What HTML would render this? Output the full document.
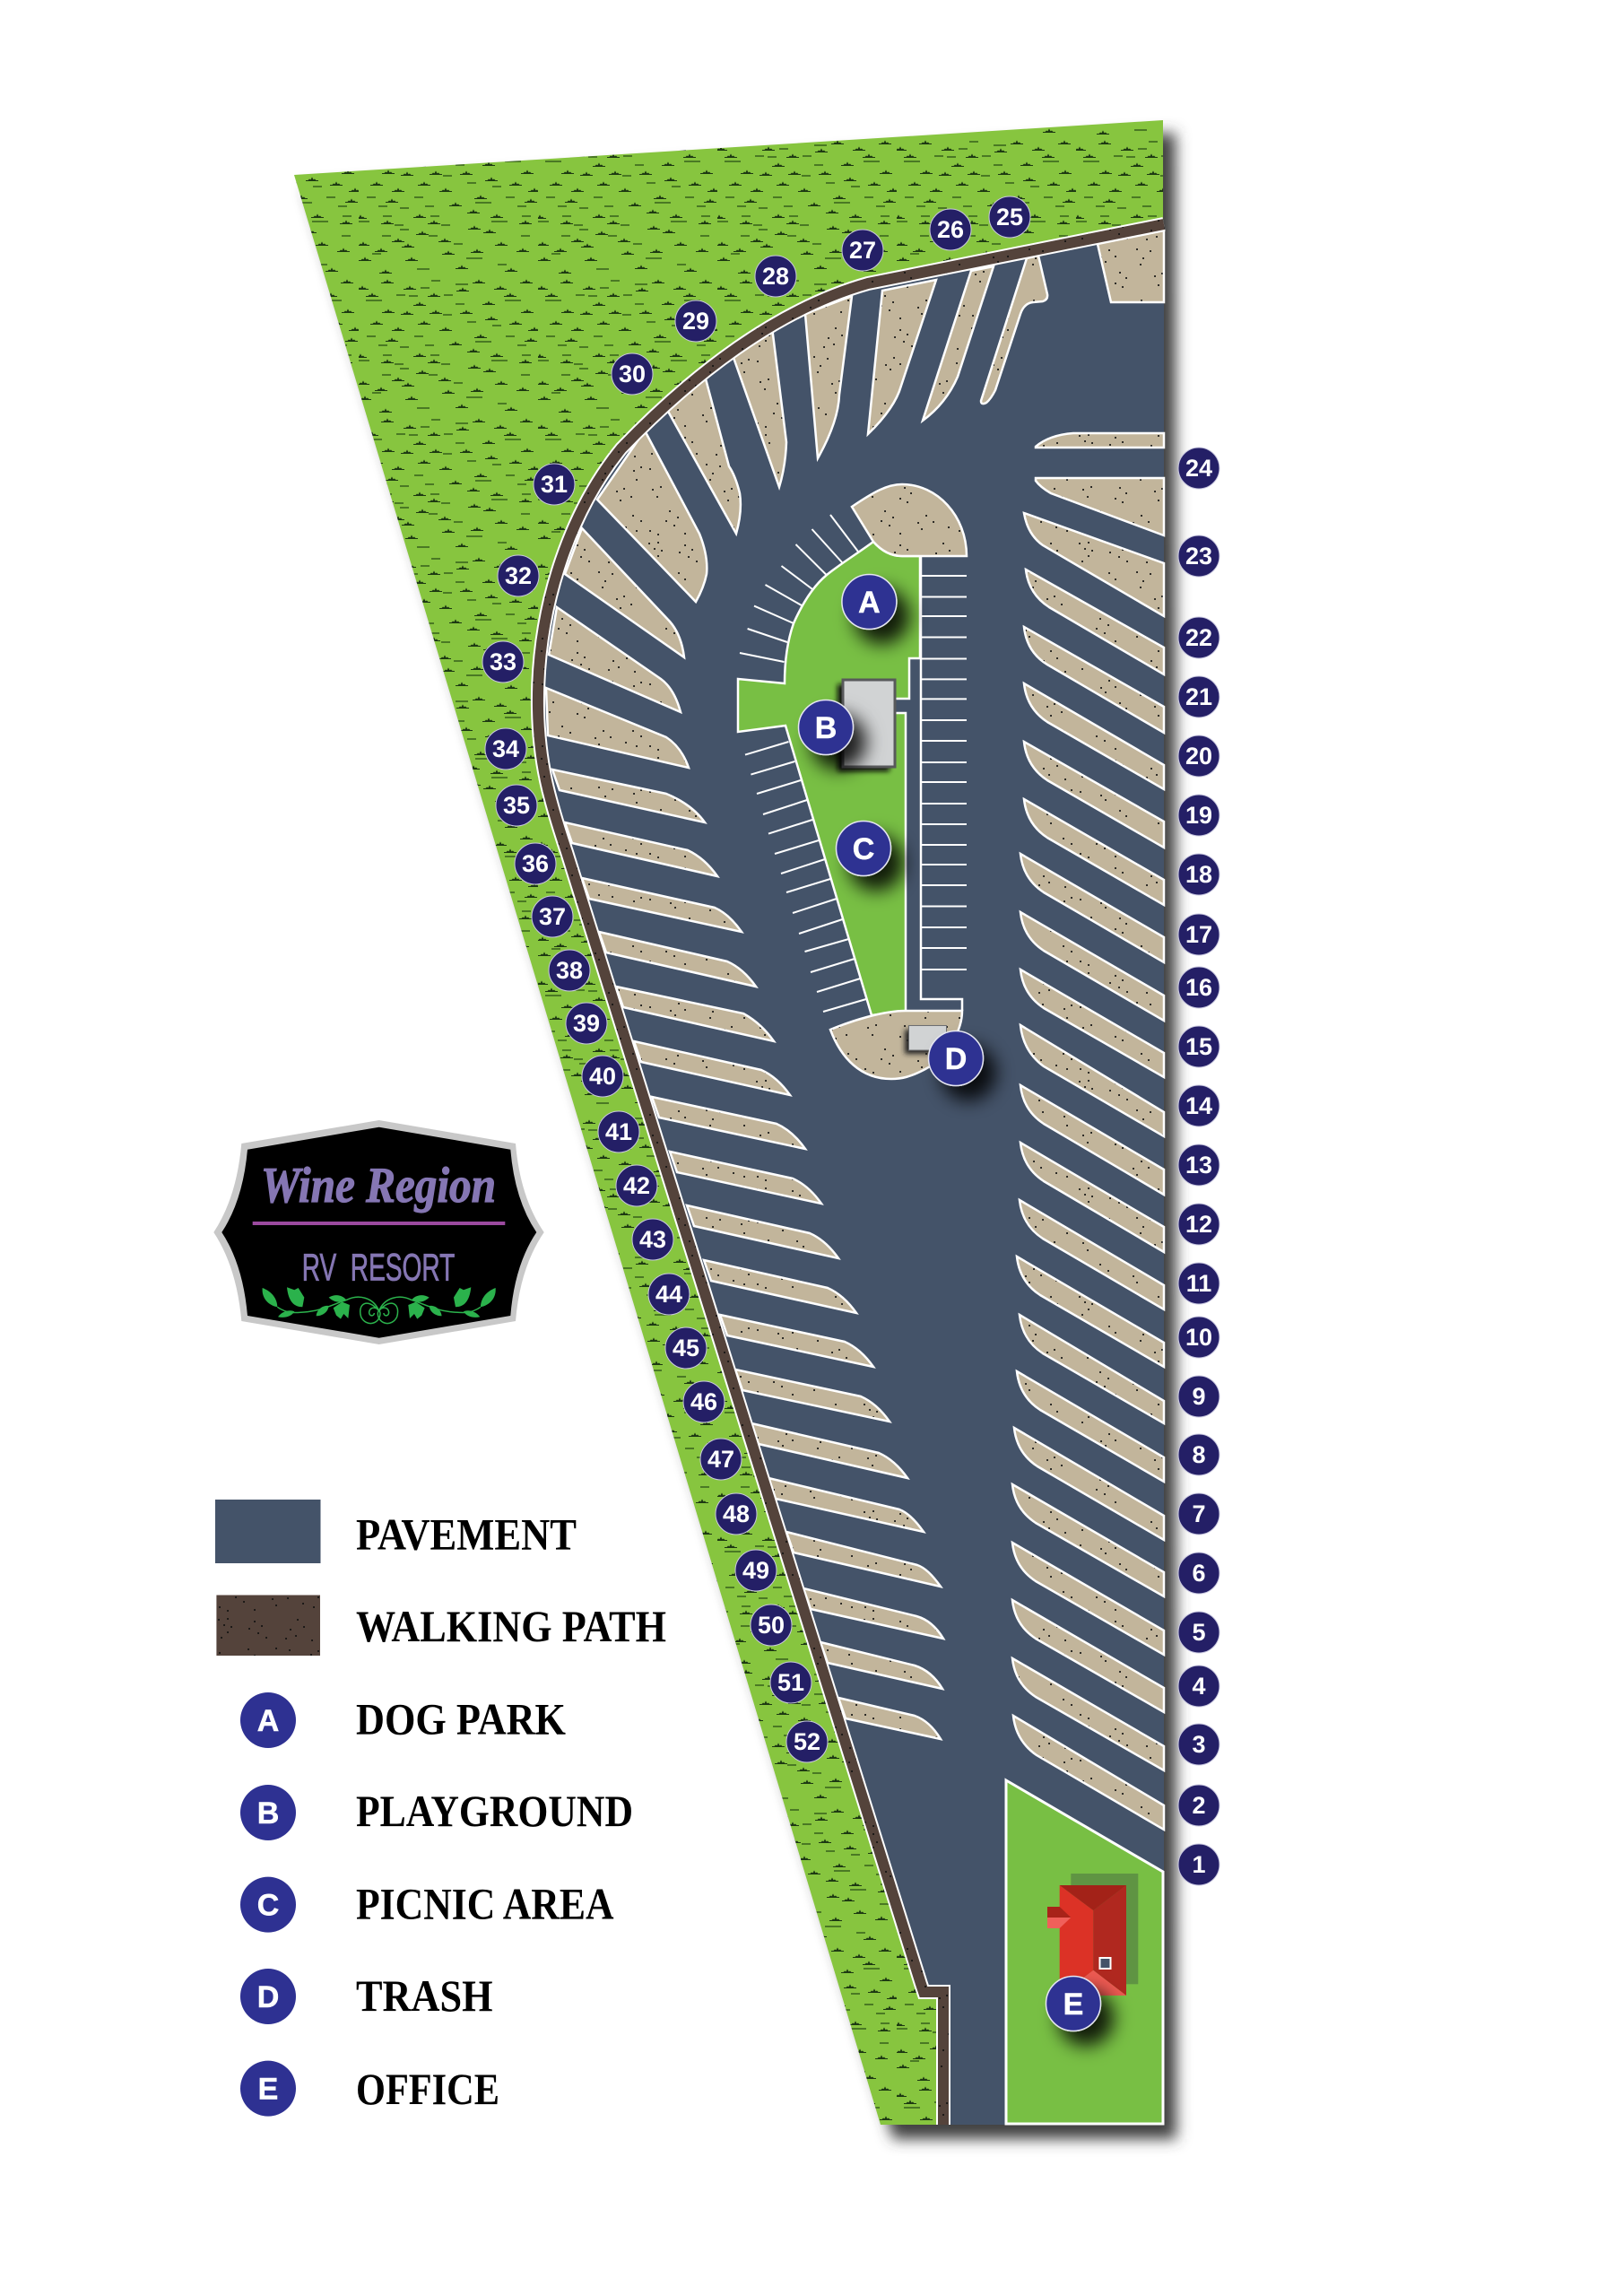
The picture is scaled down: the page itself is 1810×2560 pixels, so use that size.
<!DOCTYPE html>
<html><head><meta charset="utf-8"><style>
html,body{margin:0;padding:0;background:#fff}
svg{display:block}
.n{font:bold 27px "Liberation Sans",sans-serif;fill:#fff;text-anchor:middle}
.l{font:bold 34px "Liberation Sans",sans-serif;fill:#fff;text-anchor:middle;stroke:#fff;stroke-width:.5}
.g{font:bold 50px "Liberation Serif",serif;fill:#000}
</style></head><body>
<svg xmlns="http://www.w3.org/2000/svg" width="1810" height="2560" viewBox="0 0 1810 2560">
<defs>
<path id="t" d="M-7,1h14v1h-14zM-4.5,1L-3,-.5L-1.5,.2L0,-2.6L1.5,.2L3,-.5L4.5,1Z" fill="#1c3812"/>
<path id="dots" fill="none" stroke="#111" stroke-width="1.8" stroke-linecap="square" d="M4 6h.1M10 12h.1M14 5h.1M18 14h.1M14 20h.1M7 26h.1M38 16h.1M44 8h.1M48 21h.1M52 13h.1M57 26h.1M84 17h.1M79 27h.1M92 6h.1M99 14h.1M90 24h.1M108 29h.1M5 43h.1M28 47h.1M37 39h.1M33 52h.1M44 46h.1M68 38h.1M75 48h.1M83 40h.1M72 55h.1M107 45h.1M115 41h.1M110 55h.1M8 66h.1M17 63h.1M13 74h.1M49 64h.1M56 70h.1M44 76h.1M52 80h.1M88 68h.1M96 65h.1M92 78h.1M104 74h.1M27 90h.1M36 97h.1M23 101h.1M32 106h.1M64 103h.1M73 95h.1M68 110h.1M81 102h.1M106 95h.1M115 101h.1M98 108h.1M110 112h.1M5 112h.1M14 116h.1M44 115h.1"/>
<pattern id="tan" width="120" height="120" patternUnits="userSpaceOnUse"><rect width="120" height="120" fill="#c2b59b"/><use href="#dots"/></pattern>
<pattern id="brn" width="120" height="120" patternUnits="userSpaceOnUse"><rect width="120" height="120" fill="#54433b"/><use href="#dots"/></pattern>
<pattern id="grass" width="200" height="155" patternUnits="userSpaceOnUse">
<rect width="200" height="155" fill="#87c53f"/>
<g id="tf">
<use href="#t" x="32" y="4"/><use href="#t" x="134" y="4"/><use href="#t" x="187" y="4"/><use href="#t" x="4" y="11"/><use href="#t" x="57" y="11"/><use href="#t" x="116" y="13"/><use href="#t" x="158" y="11"/><use href="#t" x="15" y="19"/><use href="#t" x="84" y="19"/><use href="#t" x="169" y="19"/><use href="#t" x="68" y="29"/><use href="#t" x="145" y="28"/><use href="#t" x="33" y="37"/><use href="#t" x="54" y="39"/><use href="#t" x="86" y="38"/><use href="#t" x="120" y="38"/><use href="#t" x="188" y="37"/><use href="#t" x="148" y="45"/><use href="#t" x="20" y="50"/><use href="#t" x="73" y="50"/><use href="#t" x="175" y="50"/><use href="#t" x="44" y="57"/><use href="#t" x="97" y="57"/><use href="#t" x="196" y="57"/><use href="#t" x="136" y="65"/><use href="#t" x="37" y="69"/><use href="#t" x="108" y="73"/><use href="#t" x="192" y="69"/><use href="#t" x="128" y="81"/><use href="#t" x="2" y="87"/><use href="#t" x="68" y="86"/><use href="#t" x="154" y="86"/><use href="#t" x="32" y="93"/><use href="#t" x="84" y="93"/><use href="#t" x="186" y="93"/><use href="#t" x="129" y="99"/><use href="#t" x="146" y="103"/><use href="#t" x="71" y="105"/><use href="#t" x="44" y="113"/><use href="#t" x="96" y="113"/><use href="#t" x="5" y="117"/><use href="#t" x="159" y="117"/><use href="#t" x="55" y="119"/><use href="#t" x="25" y="124"/><use href="#t" x="132" y="125"/><use href="#t" x="183" y="124"/><use href="#t" x="100" y="127"/><use href="#t" x="7" y="134"/><use href="#t" x="59" y="134"/><use href="#t" x="115" y="143"/><use href="#t" x="170" y="146"/><use href="#t" x="30" y="148"/>
</g>
<path fill="none" stroke="#36601a" stroke-width="1.4" d="M108 7h14M81 3h10M69 11h10M42 19h10M56 20h10M95 19h10M8 25h18M163 25h18M108 29h10M94 41h10M121 49h10M149 53h10M9 65h10M62 65h10M164 65h10M130 71h18M22 75h10M74 75h10M177 75h10M46 77h10M27 86h10M80 86h10M182 86h10M0 92h12M148 92h18M40 96h10M92 96h10M46 101h10M26 108h10M78 108h10M181 108h10M106 117h10M15 128h10M120 133h18M155 140h10M65 145h14"/>
</pattern>
<filter id="sh" x="-10%" y="-10%" width="120%" height="120%"><feGaussianBlur stdDeviation="8"/></filter>
<filter id="sb" x="-30%" y="-30%" width="160%" height="160%"><feGaussianBlur stdDeviation="3"/></filter>
<filter id="bs" x="-80%" y="-80%" width="280%" height="280%"><feDropShadow dx="14" dy="16" stdDeviation="10" flood-color="#000" flood-opacity=".85"/></filter>
</defs>
<rect width="1810" height="2560" fill="#fff"/>

<polygon points="342,209 1311,148 1312,2385 996,2385" fill="#404040" filter="url(#sh)"/>
<polygon points="328,195 1297,134 1298,2369 982,2369" fill="url(#grass)"/>

<path id="pave" d="M1298,250L968,316C865,345 770,420 693,500C640,565 598,670 600,790C601,850 612,890 632,950L1027,2212L1030,2221L1052,2221L1052,2369L1298,2369Z" fill="#445369"/>

<!-- office lawn -->
<polygon points="1122,1985 1297,2087 1297,2368 1122,2368" fill="#78bf44" stroke="#fff" stroke-width="3"/>

<!-- islands -->
<g fill="url(#tan)" stroke="#fff" stroke-width="2.5" stroke-linejoin="miter">
<path d="M1155,498Q1170,485 1197,483L1298,483L1298,499L1155,499Z"/>
<path d="M1155,533L1298,533L1298,597L1172,550Q1160,543 1155,536Z"/>
<path d="M1142,572L1298,628L1298,687L1163,608Q1146,596 1142,572Z"/>
<path d="M1144,635L1298,722L1298,752L1170,677Q1147,662 1144,635Z"/>
<path d="M1142,699L1298,788L1298,817L1168,741Q1145,727 1142,699Z"/>
<path d="M1142,762L1298,853L1298,880L1168,805Q1145,790 1142,762Z"/>
<path d="M1142,827L1298,916L1298,945L1168,870Q1145,855 1142,827Z"/>
<path d="M1142,891L1298,981L1298,1009L1168,934Q1145,919 1142,891Z"/>
<path d="M1138,952L1298,1045L1298,1073L1164,995Q1141,980 1138,952Z"/>
<path d="M1138,1017L1298,1110L1298,1138L1164,1060Q1141,1045 1138,1017Z"/>
<path d="M1138,1081L1298,1174L1298,1201L1164,1124Q1141,1109 1138,1081Z"/>
<path d="M1138,1143L1298,1240L1298,1267L1164,1189Q1141,1172 1138,1143Z"/>
<path d="M1138,1210L1298,1304L1298,1332L1164,1253Q1141,1238 1138,1210Z"/>
<path d="M1138,1274L1298,1368L1298,1396L1164,1317Q1141,1302 1138,1274Z"/>
<path d="M1137,1338L1298,1433L1298,1460L1163,1381Q1140,1366 1137,1338Z"/>
<path d="M1134,1401L1298,1497L1298,1524L1160,1444Q1137,1429 1134,1401Z"/>
<path d="M1137,1466L1298,1562L1298,1587L1163,1509Q1140,1494 1137,1466Z"/>
<path d="M1134,1529L1298,1625L1298,1652L1160,1572Q1137,1557 1134,1529Z"/>
<path d="M1131,1592L1298,1690L1298,1717L1157,1635Q1134,1620 1131,1592Z"/>
<path d="M1129,1655L1298,1753L1298,1780L1155,1698Q1132,1683 1129,1655Z"/>
<path d="M1129,1720L1298,1818L1298,1845L1155,1763Q1132,1748 1129,1720Z"/>
<path d="M1129,1784L1298,1882L1298,1909L1155,1827Q1132,1812 1129,1784Z"/>
<path d="M1129,1849L1298,1947L1298,1974L1155,1892Q1132,1877 1129,1849Z"/>
<path d="M1130,1913L1298,2013L1298,2040L1156,1957Q1133,1941 1130,1913Z"/>
<path d="M1224,272L1239,337L1298,337L1298,257Z"/>
<!-- fan -->
<path d="M1145,288L1094,447Q1094,452 1100,449Q1105,445 1110,435L1138,350Q1142,338 1152,337L1163,336Q1169,334 1168,328L1158,285Z"/>
<path d="M1083,302L1029,469Q1055,450 1068,420L1108,297Z"/>
<path d="M984,324L968,484Q998,455 1005,430L1044,312Z"/>
<path d="M898,350L912,511Q935,470 936,440L950,330Z"/>
<path d="M816,393L869,543Q876,520 877,493L861,365Z"/>
<path d="M743,455L821,595Q828,570 825,550Q820,530 813,520L785,415Z"/>
<path d="M719,480L780,595Q790,620 788,640Q785,655 776,671L666,557Z"/>
<path d="M649,589L747,693Q760,708 763,733L630,640Z"/>
<path d="M621,677L737,757Q752,768 759,794L612,730Z"/>
<path d="M609,767L743,822Q760,833 768,856L611,820Z"/>
<!-- left row -->
<path d="M616,858L743,885Q772,897 786,917L624,881Z"/>
<path d="M630,917L767,948Q786,957 800,977L638,940Z"/>
<path d="M649,979L797,1012Q813,1019 827,1039L657,1002Z"/>
<path d="M668,1039L811,1072Q829,1080 843,1100L676,1062Z"/>
<path d="M687,1100L829,1130Q849,1141 863,1161L695,1123Z"/>
<path d="M707,1161L849,1193Q867,1201 881,1221L715,1184Z"/>
<path d="M727,1223L866,1253Q884,1261 898,1281L735,1246Z"/>
<path d="M747,1284L884,1314Q902,1322 916,1342L755,1307Z"/>
<path d="M766,1344L903,1375Q921,1383 935,1403L774,1367Z"/>
<path d="M785,1405L923,1436Q941,1444 955,1464L793,1428Z"/>
<path d="M803,1466L942,1496Q960,1504 974,1524L811,1489Z"/>
<path d="M820,1527L960,1557Q978,1565 992,1585L828,1550Z"/>
<path d="M838,1587L980,1620Q998,1628 1012,1648L846,1610Z"/>
<path d="M857,1648L1003,1683Q1016,1688 1030,1708L865,1671Z"/>
<path d="M877,1708L1023,1745Q1035,1749 1049,1769L885,1731Z"/>
<path d="M896,1771L1022,1802Q1040,1807 1052,1827L904,1794Z"/>
<path d="M915,1831L1020,1857Q1039,1863 1051,1883L923,1854Z"/>
<path d="M935,1893L1020,1913Q1037,1919 1049,1939L943,1916Z"/>
</g>

<!-- median green -->
<path d="M974,604C955,618 938,628 922,641C905,655 893,677 885,695C878,715 875,738 875,762L823,757L823,816L876,809L972,1132L1010,1127L1010,795L998,795L998,779L1014,779L1014,734L1026,734L1026,620L1006,620C992,620 982,613 974,604Z" fill="#78bf44" stroke="#fff" stroke-width="2.5"/>
<path d="M950,565C975,548 990,540 1006,540C1045,540 1078,575 1078,620L1006,620C992,620 982,613 974,604Z" fill="url(#tan)" stroke="#fff" stroke-width="2.5"/>
<path d="M926,1148C950,1138 985,1127 1010,1127L1073,1127C1073,1150 1055,1180 1032,1192C1015,1201 1005,1203 994,1203C960,1203 938,1180 926,1148Z" fill="url(#tan)" stroke="#fff" stroke-width="2.5"/>
<path d="M1027,620V1114H1073V1127" fill="none" stroke="#fff" stroke-width="2.5"/>
<path fill="none" stroke="#fff" stroke-width="2" d="M1027,642H1078M1027,665.5H1078M1027,687H1078M1027,710.5H1078M1027,734.5H1078M1027,757.4H1078M1027,779.4H1078M1027,803H1078M1027,826H1078M1027,850H1078M1027,872H1078M1027,896H1078M1027,919H1078M1027,942H1078M1027,964H1078M1027,987H1078M1027,1010.5H1078M1027,1034H1078M1027,1057H1078M1027,1081H1078
M957,615L926,574M939,627L905.5,590M921.6,641L887.5,607M907.4,658L871.5,631M895,675.6L853.5,652M885,695L841,675.6M878,716L833.6,701M874.5,738L825,728
M879.5,827L831,841.6M886.4,849L837.4,863.6M893,870L844,885M900,892L851,908M906,914L857,929.6M913,937L864,952M920,958L871,974M926,980L877,995M933,1002L884,1018M939.6,1025L891,1041M946.5,1047L897.5,1061M953,1069L904,1084M959.5,1091L911,1106M966,1114L918,1128"/>

<!-- playground bldg -->
<rect x="934" y="763" width="58" height="97" fill="#111" filter="url(#sb)"/>
<rect x="940" y="758" width="58" height="97" fill="#d1d3d4" stroke="#58595b" stroke-width="3"/>
<!-- trash -->
<rect x="1009" y="1148" width="42" height="27" fill="#222" filter="url(#sb)"/>
<rect x="1013.5" y="1143.5" width="42" height="27.5" fill="#d1d3d4" stroke="#6d6e71" stroke-width="1"/>

<!-- walking path -->
<g fill="none" stroke-linejoin="miter">
<path d="M1298,250L968,316C865,345 770,420 693,500C640,565 598,670 600,790C601,850 612,890 632,950L1027,2212L1030,2221L1052,2221L1052,2369" stroke="#fff" stroke-width="16"/>
<path d="M1298,250L968,316C865,345 770,420 693,500C640,565 598,670 600,790C601,850 612,890 632,950L1027,2212L1030,2221L1052,2221L1052,2369" stroke="url(#brn)" stroke-width="12"/>
</g>

<!-- office -->
<rect x="1194.3" y="2089" width="75" height="123.3" fill="#5f9443"/>
<polygon points="1181.7,2102 1219.3,2130 1219.3,2196.7 1181.7,2225" fill="#dc3226"/>
<polygon points="1256,2102 1219.3,2130 1219.3,2196.7 1256,2225" fill="#b0281f"/>
<polygon points="1181.7,2102 1256,2102 1219.3,2130" fill="#a32218"/>
<polygon points="1181.7,2225 1219.3,2196.7 1256,2225" fill="#ee5a52"/>
<polygon points="1168,2126 1181.7,2126 1194.3,2138 1168,2138" fill="#a82319"/>
<polygon points="1168,2138 1194.3,2138 1181.7,2150 1168,2150" fill="#f0605a"/>
<rect x="1226.5" y="2183" width="12" height="12" fill="#445369" stroke="#fff" stroke-width="2"/>

<!-- big badges -->
<g fill="#2e3192" stroke="#e6e7f2" stroke-width="1.5">
<circle cx="969.4" cy="671" r="30.5" filter="url(#bs)"/>
<circle cx="921" cy="811" r="30.5" filter="url(#bs)"/>
<circle cx="963" cy="946" r="30.5" filter="url(#bs)"/>
<circle cx="1066" cy="1180" r="30.5" filter="url(#bs)"/>
<circle cx="1197" cy="2234" r="30.5" filter="url(#bs)"/>
</g>
<text class="l" x="969.4" y="683">A</text>
<text class="l" x="921" y="823">B</text>
<text class="l" x="963" y="958">C</text>
<text class="l" x="1066" y="1192">D</text>
<text class="l" x="1197" y="2246">E</text>

<!-- number badges -->
<g fill="#241f66" stroke="#c9c8e0" stroke-width="1">
<circle cx="1337" cy="2079" r="23"/><circle cx="1337" cy="2013" r="23"/><circle cx="1337" cy="1945" r="23"/><circle cx="1337" cy="1880" r="23"/><circle cx="1337" cy="1820" r="23"/><circle cx="1337" cy="1754" r="23"/><circle cx="1337" cy="1688" r="23"/><circle cx="1337" cy="1622" r="23"/><circle cx="1337" cy="1557" r="23"/><circle cx="1337" cy="1491" r="23"/><circle cx="1337" cy="1431" r="23"/><circle cx="1337" cy="1365" r="23"/><circle cx="1337" cy="1299" r="23"/><circle cx="1337" cy="1233" r="23"/><circle cx="1337" cy="1167" r="23"/><circle cx="1337" cy="1101" r="23"/><circle cx="1337" cy="1042" r="23"/><circle cx="1337" cy="975" r="23"/><circle cx="1337" cy="909" r="23"/><circle cx="1337" cy="843" r="23"/><circle cx="1337" cy="777" r="23"/><circle cx="1337" cy="711" r="23"/><circle cx="1337" cy="620" r="23"/><circle cx="1337" cy="522" r="23"/>
<circle cx="1126" cy="242" r="23"/><circle cx="1060" cy="256" r="23"/><circle cx="962" cy="279" r="23"/><circle cx="865" cy="308" r="23"/><circle cx="776" cy="358" r="23"/><circle cx="705" cy="417" r="23"/><circle cx="618" cy="540" r="23"/><circle cx="578" cy="642" r="23"/><circle cx="561" cy="738" r="23"/><circle cx="564" cy="835" r="23"/><circle cx="576" cy="898" r="23"/><circle cx="597" cy="963" r="23"/><circle cx="616" cy="1022" r="23"/><circle cx="635" cy="1082" r="23"/><circle cx="654" cy="1141" r="23"/><circle cx="672" cy="1200" r="23"/><circle cx="690" cy="1262" r="23"/><circle cx="710" cy="1322" r="23"/><circle cx="728" cy="1382" r="23"/><circle cx="746" cy="1443" r="23"/><circle cx="765" cy="1503" r="23"/><circle cx="785" cy="1563" r="23"/><circle cx="804" cy="1627" r="23"/><circle cx="821" cy="1688" r="23"/><circle cx="843" cy="1751" r="23"/><circle cx="860" cy="1812" r="23"/><circle cx="882" cy="1876" r="23"/><circle cx="900" cy="1942" r="23"/>
</g>
<g class="nums">
<text class="n" x="1337" y="2088">1</text><text class="n" x="1337" y="2022">2</text><text class="n" x="1337" y="1954">3</text><text class="n" x="1337" y="1889">4</text><text class="n" x="1337" y="1829">5</text><text class="n" x="1337" y="1763">6</text><text class="n" x="1337" y="1697">7</text><text class="n" x="1337" y="1631">8</text><text class="n" x="1337" y="1566">9</text><text class="n" x="1337" y="1500">10</text><text class="n" x="1337" y="1440">11</text><text class="n" x="1337" y="1374">12</text><text class="n" x="1337" y="1308">13</text><text class="n" x="1337" y="1242">14</text><text class="n" x="1337" y="1176">15</text><text class="n" x="1337" y="1110">16</text><text class="n" x="1337" y="1051">17</text><text class="n" x="1337" y="984">18</text><text class="n" x="1337" y="918">19</text><text class="n" x="1337" y="852">20</text><text class="n" x="1337" y="786">21</text><text class="n" x="1337" y="720">22</text><text class="n" x="1337" y="629">23</text><text class="n" x="1337" y="531">24</text>
<text class="n" x="1126" y="251">25</text><text class="n" x="1060" y="265">26</text><text class="n" x="962" y="288">27</text><text class="n" x="865" y="317">28</text><text class="n" x="776" y="367">29</text><text class="n" x="705" y="426">30</text><text class="n" x="618" y="549">31</text><text class="n" x="578" y="651">32</text><text class="n" x="561" y="747">33</text><text class="n" x="564" y="844">34</text><text class="n" x="576" y="907">35</text><text class="n" x="597" y="972">36</text><text class="n" x="616" y="1031">37</text><text class="n" x="635" y="1091">38</text><text class="n" x="654" y="1150">39</text><text class="n" x="672" y="1209">40</text><text class="n" x="690" y="1271">41</text><text class="n" x="710" y="1331">42</text><text class="n" x="728" y="1391">43</text><text class="n" x="746" y="1452">44</text><text class="n" x="765" y="1512">45</text><text class="n" x="785" y="1572">46</text><text class="n" x="804" y="1636">47</text><text class="n" x="821" y="1697">48</text><text class="n" x="843" y="1760">49</text><text class="n" x="860" y="1821">50</text><text class="n" x="882" y="1885">51</text><text class="n" x="900" y="1951">52</text>
</g>

<!-- logo -->
<path d="M422.7,1249L575,1275Q580,1335 606.7,1374Q580,1413 575,1473L422.7,1499L269.3,1473Q264,1413 238.3,1374Q264,1335 269.3,1275Z" fill="#c8c8c8"/>
<path d="M422.7,1256.7L569.3,1281.7Q574,1338 598.3,1374Q574,1410 569.3,1467L422.7,1491.7L276,1467Q271,1410 247.3,1374Q271,1338 276,1281.7Z" fill="#000"/>
<text x="291" y="1340" font-family="Liberation Serif,serif" font-weight="bold" font-style="italic" font-size="56" fill="#8576b3" stroke="#8576b3" stroke-width="1.2" textLength="262" lengthAdjust="spacingAndGlyphs">Wine Region</text>
<rect x="281.7" y="1362" width="281.6" height="4" fill="#9b4a9f"/>
<text x="336.7" y="1427.3" font-family="Liberation Sans,sans-serif" font-size="43" fill="#8576b3" stroke="#8576b3" stroke-width=".8" textLength="170.6" lengthAdjust="spacingAndGlyphs">RV&#160;&#160;RESORT</text>
<g transform="translate(220,1220) scale(.3333)">
<g id="vine">
<path d="M608,725C590,680 540,668 500,688C450,705 420,722 370,728C330,732 300,735 268,712M608,725C570,680 535,700 548,745C565,780 610,770 612,735C612,712 575,705 575,732C578,745 592,742 592,732" fill="none" stroke="#2bb24c" stroke-width="4.5"/>
<path d="M218,648C250,660 268,685 268,712C235,705 215,680 218,648Z M300,646L325,655L338,648L358,680L352,712C325,712 305,695 300,646Z M270,745C285,725 310,720 325,727C315,745 290,750 270,745Z M440,680C465,665 490,675 500,690C475,700 455,695 440,680Z M398,742C400,720 420,705 440,708C438,728 420,742 398,742Z M455,715L485,695L510,705L505,750L490,735L480,752L465,740Z" fill="#2bb24c"/>
</g>
<use href="#vine" transform="translate(1216,0) scale(-1,1)"/>
</g>

<!-- legend -->
<rect x="240" y="1672" width="117.5" height="71" fill="#445369"/>
<rect x="241.4" y="1778.5" width="115.6" height="67.5" fill="url(#brn)"/>
<g fill="#2e3192">
<circle cx="299" cy="1918" r="31"/><circle cx="299" cy="2021" r="31"/><circle cx="299" cy="2123.6" r="31"/><circle cx="299" cy="2226" r="31"/><circle cx="299" cy="2328.6" r="31"/>
</g>
<text class="l" x="299" y="1930">A</text><text class="l" x="299" y="2033">B</text><text class="l" x="299" y="2135.6">C</text><text class="l" x="299" y="2238">D</text><text class="l" x="299" y="2340.6">E</text>
<text class="g" x="397" y="1727.6" textLength="246" lengthAdjust="spacingAndGlyphs">PAVEMENT</text>
<text class="g" x="397" y="1830" textLength="346" lengthAdjust="spacingAndGlyphs">WALKING PATH</text>
<text class="g" x="397" y="1933.6" textLength="234" lengthAdjust="spacingAndGlyphs">DOG PARK</text>
<text class="g" x="397" y="2036" textLength="309" lengthAdjust="spacingAndGlyphs">PLAYGROUND</text>
<text class="g" x="397" y="2139.6" textLength="287.5" lengthAdjust="spacingAndGlyphs">PICNIC AREA</text>
<text class="g" x="397" y="2242" textLength="152.5" lengthAdjust="spacingAndGlyphs">TRASH</text>
<text class="g" x="397" y="2346" textLength="160" lengthAdjust="spacingAndGlyphs">OFFICE</text>
</svg>
</body></html>
